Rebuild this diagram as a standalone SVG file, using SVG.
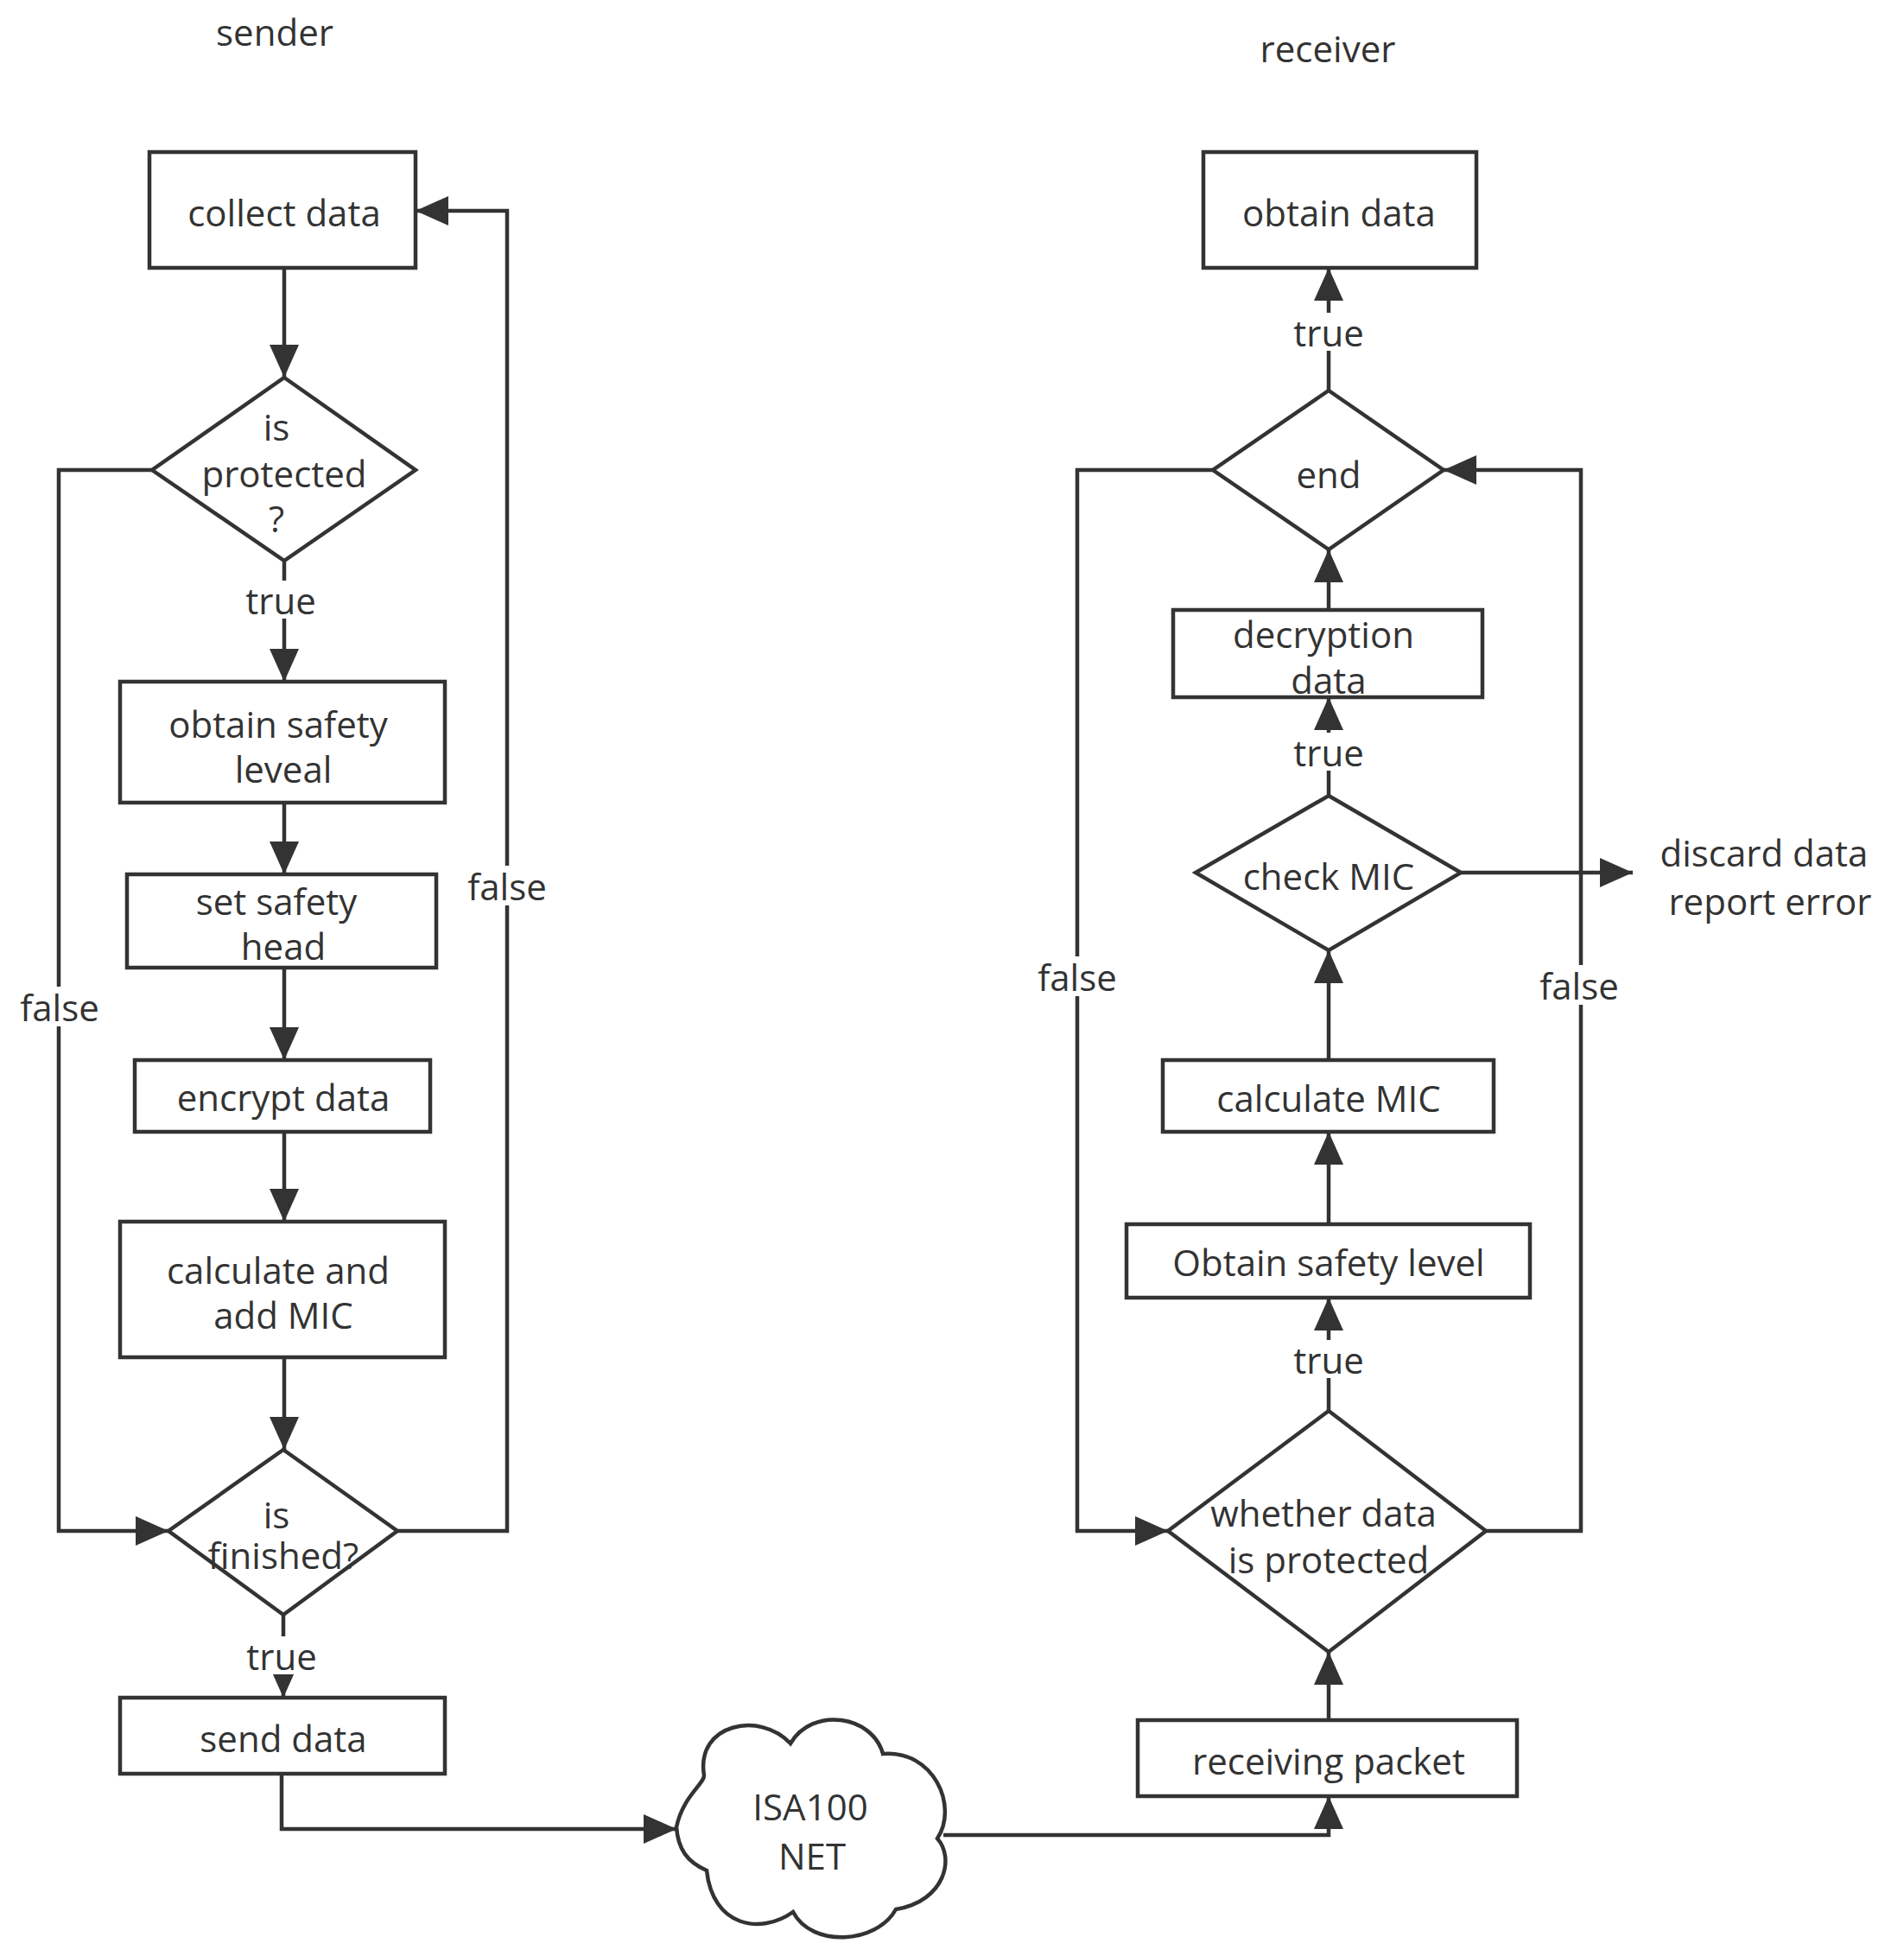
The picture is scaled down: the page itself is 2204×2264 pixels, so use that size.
<svg xmlns="http://www.w3.org/2000/svg" width="2204" height="2264" viewBox="0 0 2204 2264">
<defs>
<marker id="ah" markerUnits="userSpaceOnUse" markerWidth="40" markerHeight="34" refX="38" refY="17" orient="auto"><path d="M0,0 L38,17 L0,34 Z" fill="#333"/></marker>
<style>
.n{fill:#fff;stroke:#333;stroke-width:4.5}
.c{fill:none;stroke:#333;stroke-width:4.5;marker-end:url(#ah)}
text{font-family:"Open Sans","Noto Sans",sans-serif;font-size:42px;fill:#333;text-anchor:middle;dominant-baseline:central}
</style>
</defs>
<rect width="2204" height="2264" fill="#fff"/>
<text x="318" y="36">sender</text>
<text x="1537" y="55">receiver</text>
<g id="connectors">
<path class="c" d="M329,310 V437"/>
<path class="c" d="M329,649 V789"/>
<path class="c" d="M329,929 V1012"/>
<path class="c" d="M329,1120 V1227"/>
<path class="c" d="M329,1310 V1414"/>
<path class="c" d="M329,1571 V1678"/>
<path class="c" d="M328,1869 V1965"/>
<path class="c" d="M176,544 H68 V1772 H195"/>
<path class="c" d="M460,1772 H587 V244 H481"/>
<path class="c" d="M326,2053 V2117 H783"/>
<path class="c" d="M1092,2124 H1538 V2079"/>
<path class="c" d="M1538,1991 V1912"/>
<path class="c" d="M1538,1633 V1502"/>
<path class="c" d="M1538,1417 V1310"/>
<path class="c" d="M1538,1227 V1100"/>
<path class="c" d="M1538,921 V807"/>
<path class="c" d="M1538,706 V636"/>
<path class="c" d="M1538,452 V310"/>
<path class="c" d="M1691,1010 H1890"/>
<path class="c" d="M1404,544 H1247 V1772 H1352"/>
<path class="c" d="M1720,1772 H1830 V544 H1671"/>
<rect x="290" y="672" width="70" height="44" fill="#fff"/>
<rect x="290" y="1894" width="72" height="44" fill="#fff"/>
<rect x="1500" y="362" width="76" height="44" fill="#fff"/>
<rect x="1500" y="848" width="76" height="44" fill="#fff"/>
<rect x="1500" y="1551" width="76" height="44" fill="#fff"/>
<rect x="545" y="1002" width="84" height="46" fill="#fff"/>
<rect x="30" y="1142" width="80" height="46" fill="#fff"/>
<rect x="1205" y="1107" width="84" height="46" fill="#fff"/>
<rect x="1786" y="1117" width="84" height="46" fill="#fff"/>
<text x="325" y="694">true</text>
<text x="326" y="1916">true</text>
<text x="1538" y="384">true</text>
<text x="1538" y="870">true</text>
<text x="1538" y="1573">true</text>
<text x="587" y="1025">false</text>
<text x="69" y="1165">false</text>
<text x="1247" y="1130">false</text>
<text x="1828" y="1140">false</text>
</g>
<g id="collect"><rect class="n" x="173" y="176" width="308" height="134"/><text x="329" y="245">collect data</text></g>
<g id="isprotected"><path class="n" d="M329,437 L481,544 L329,649 L176,544 Z"/><text x="320" y="493">is</text><text x="329" y="547">protected</text><text x="320" y="599">?</text></g>
<g id="obtainsafety"><rect class="n" x="139" y="789" width="376" height="140"/><text x="322" y="837">obtain safety</text><text x="328" y="889">leveal</text></g>
<g id="sethead"><rect class="n" x="147" y="1012" width="358" height="108"/><text x="320" y="1042">set safety</text><text x="328" y="1094">head</text></g>
<g id="encrypt"><rect class="n" x="156" y="1227" width="342" height="83"/><text x="328" y="1269">encrypt data</text></g>
<g id="calcadd"><rect class="n" x="139" y="1414" width="376" height="157"/><text x="322" y="1469">calculate and</text><text x="328" y="1521">add MIC</text></g>
<g id="isfinished"><path class="n" d="M328,1678 L460,1772 L328,1869 L195,1772 Z"/><text x="320" y="1752">is</text><text x="328" y="1799">finished?</text></g>
<g id="send"><rect class="n" x="139" y="1965" width="376" height="88"/><text x="328" y="2011">send data</text></g>
<g id="cloud"><path class="n" d="M783,2115 C790,2080 815,2065 815,2055 C805,1995 880,1980 915,2018 C940,1975 1010,1985 1022,2030 C1080,2025 1110,2090 1085,2128 C1105,2150 1095,2200 1037,2210 C1015,2250 940,2255 918,2213 C880,2240 825,2230 818,2165 C795,2155 785,2140 783,2115 Z"/><text x="938" y="2090" font-size="44">ISA100</text><text x="940" y="2147" font-size="44">NET</text></g>
<g id="obtaindata"><rect class="n" x="1393" y="176" width="316" height="134"/><text x="1550" y="245">obtain data</text></g>
<g id="end"><path class="n" d="M1538,452 L1671,544 L1538,636 L1404,544 Z"/><text x="1538" y="548">end</text></g>
<g id="decrypt"><rect class="n" x="1358" y="706" width="358" height="101"/><text x="1532" y="733">decryption</text><text x="1538" y="786">data</text></g>
<g id="checkmic"><path class="n" d="M1538,921 L1691,1010 L1538,1100 L1384,1010 Z"/><text x="1538" y="1013" font-size="46">check MIC</text></g>
<g id="discard"><text x="2042" y="986" font-size="46">discard data</text><text x="2049" y="1042" font-size="46">report error</text></g>
<g id="calcmic"><rect class="n" x="1346" y="1227" width="383" height="83"/><text x="1538" y="1270">calculate MIC</text></g>
<g id="obtainlevel"><rect class="n" x="1304" y="1417" width="467" height="85"/><text x="1538" y="1460">Obtain safety level</text></g>
<g id="whether"><path class="n" d="M1538,1633 L1720,1772 L1538,1912 L1352,1772 Z"/><text x="1532" y="1750">whether data</text><text x="1538" y="1804">is protected</text></g>
<g id="receiving"><rect class="n" x="1317" y="1991" width="439" height="88"/><text x="1538" y="2037">receiving packet</text></g>
</svg>
